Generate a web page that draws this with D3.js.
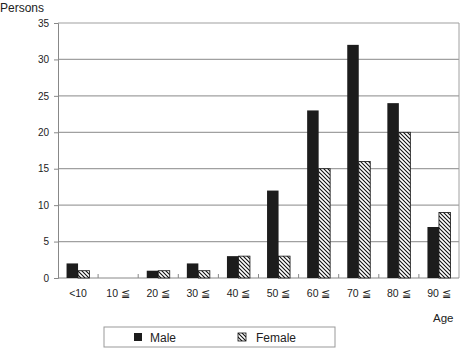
<!DOCTYPE html>
<html>
<head>
<meta charset="utf-8">
<script src="https://cdn.jsdelivr.net/npm/d3@7"></script>
<style>
  body { margin: 0; background: #fff; }
  text { font-family: "Liberation Sans", Arial, sans-serif; fill: #222; }
</style>
</head>
<body>
<div id="chart"></div>
<script>
// age groups and counts
var ageGroups = ['<10', '10 ≦', '20 ≦', '30 ≦', '40 ≦', '50 ≦', '60 ≦', '70 ≦', '80 ≦', '90 ≦'];
var maleCounts = [2, 0, 1, 2, 3, 12, 23, 32, 24, 7];
var femaleCounts = [1, 0, 1, 1, 3, 3, 15, 16, 20, 9];
var yTicks = [0, 5, 10, 15, 20, 25, 30, 35];

const width = 474;
const height = 364;
const margin = { top: 23, right: 15, bottom: 86, left: 58 };
const innerW = width - margin.left - margin.right;
const innerH = height - margin.top - margin.bottom;

var svg = d3.select('#chart').append('svg')
  .attr('width', width)
  .attr('height', height);

// hatch pattern for the female bars
var defs = svg.append('defs');
var pat = defs.append('pattern')
  .attr('id', 'hatch')
  .attr('patternUnits', 'userSpaceOnUse')
  .attr('width', 4)
  .attr('height', 4);
pat.append('rect').attr('width', 4).attr('height', 4).attr('fill', '#fff');
pat.append('path')
  .attr('d', 'M-1,-1 L5,5 M-1,3 L1,5 M3,-1 L5,1')
  .attr('stroke', '#111')
  .attr('stroke-width', 1.1);

var g = svg.append('g').attr('transform', 'translate(' + margin.left + ',' + margin.top + ')');

var x = d3.scaleBand().domain(ageGroups).range([0, innerW]);
var y = d3.scaleLinear().domain([0, 35]).range([innerH, 0]);

// gridlines
g.selectAll('.grid')
  .data(yTicks.filter(d => d > 0))
  .enter().append('line')
  .attr('x1', 0).attr('x2', innerW)
  .attr('y1', d => y(d)).attr('y2', d => y(d))
  .attr('stroke', '#a0a0a0')
  .attr('stroke-width', 1.2);

// right border
g.append('line')
  .attr('x1', innerW).attr('x2', innerW)
  .attr('y1', 0).attr('y2', innerH)
  .attr('stroke', '#a0a0a0');

// y axis
var yAxis = d3.axisLeft(y).tickValues(yTicks).tickSize(4).tickPadding(5);
var yg = g.append('g').call(yAxis);
yg.select('.domain').attr('stroke', '#888');
yg.selectAll('.tick line').attr('stroke', '#888');
yg.selectAll('text').style('font-size', '10px').attr('fill', '#222');

// x axis with ticks between groups
g.append('line')
  .attr('x1', 0).attr('x2', innerW)
  .attr('y1', innerH).attr('y2', innerH)
  .attr('stroke', '#888');
g.selectAll('.xtick')
  .data(ageGroups.slice(1))
  .enter().append('line')
  .attr('x1', d => x(d)).attr('x2', d => x(d))
  .attr('y1', innerH).attr('y2', innerH - 4)
  .attr('stroke', '#888');
g.selectAll('.xlabel')
  .data(ageGroups)
  .enter().append('text')
  .attr('x', d => x(d) + x.bandwidth() / 2)
  .attr('y', innerH + 19)
  .attr('text-anchor', 'middle')
  .style('font-size', '10.5px')
  .text(d => d);

// bars
var barW = 11.5;
g.selectAll('.male')
  .data(maleCounts)
  .enter().append('rect')
  .attr('x', (d, i) => x(ageGroups[i]) + x.bandwidth() / 2 - barW)
  .attr('y', d => y(d))
  .attr('width', barW)
  .attr('height', d => innerH - y(d))
  .attr('fill', '#1c1c1c');

g.selectAll('.female')
  .data(femaleCounts)
  .enter().append('rect')
  .attr('x', (d, i) => x(ageGroups[i]) + x.bandwidth() / 2)
  .attr('y', d => y(d))
  .attr('width', barW)
  .attr('height', d => innerH - y(d))
  .attr('fill', d => d > 0 ? 'url(#hatch)' : 'none')
  .attr('stroke', d => d > 0 ? '#111' : 'none')
  .attr('stroke-width', 0.8);

// axis titles
svg.append('text')
  .attr('x', 0).attr('y', 12)
  .style('font-size', '12px')
  .text('Persons');
svg.append('text')
  .attr('x', 433).attr('y', 322)
  .style('font-size', '11.5px')
  .text('Age');

// legend
var lg = svg.append('g').attr('transform', 'translate(104,327)');
lg.append('rect')
  .attr('width', 231).attr('height', 20)
  .attr('fill', '#fff')
  .attr('stroke', '#999');
lg.append('rect').attr('x', 30).attr('y', 6).attr('width', 8).attr('height', 8).attr('fill', '#1c1c1c');
lg.append('text').attr('x', 46).attr('y', 14.5).style('font-size', '12px').text('Male');
lg.append('rect').attr('x', 134).attr('y', 6).attr('width', 8).attr('height', 8)
  .attr('fill', 'url(#hatch)').attr('stroke', '#111').attr('stroke-width', 0.8);
lg.append('text').attr('x', 152).attr('y', 14.5).style('font-size', '12px').text('Female');
</script>
</body>
</html>
